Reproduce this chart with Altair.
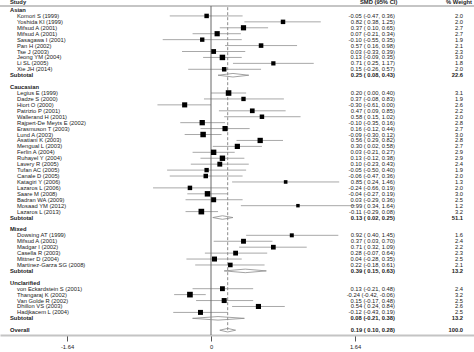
import altair as alt
import pandas as pd

asian_names = ["Komori S (1999)", "Yoshida KI (1999)", "Mifsud A (2001)", "Mifsud A (2001)",
               "Sasagawa I (2001)", "Pan H (2002)", "Tse J (2003)", "Jeong YM (2004)",
               "Li SL (2005)", "Xie JH (2014)"]
asian_smd = [-0.05, 0.82, 0.37, 0.07, -0.10, 0.57, 0.03, 0.13, 0.71, 0.15]
asian_lo = [-0.47, 0.38, 0.10, -0.21, -0.55, 0.16, -0.33, -0.09, 0.25, -0.26]
asian_hi = [0.36, 1.25, 0.65, 0.34, 0.35, 0.98, 0.39, 0.35, 1.17, 0.57]
asian_w = [2.0, 2.0, 2.7, 2.7, 1.9, 2.1, 2.3, 3.0, 1.8, 2.0]
asian_sub = (0.25, 0.08, 0.43, 22.6)

cauc_names = ["Legius E (1999)", "Dadze S (2000)", "Hiort O (2000)", "Patrizio P (2001)",
              "Wallerand H (2001)", "Rajpert-De Meyts E (2002)", "Erasmuson T (2003)",
              "Lund A (2003)", "Asatiani K (2003)", "Mengual L (2003)", "Ferlin A (2004)",
              "Ruhayel Y (2004)", "Lavery R (2005)", "Tufan AC (2005)", "Canale D (2005)",
              "Katagiri Y (2006)", "Lazaros L (2006)", "Saare M (2008)", "Badran WA (2009)",
              "Mosaad YM (2012)", "Lazaros L (2013)"]
cauc_smd = [0.20, 0.37, -0.30, 0.47, 0.58, -0.10, 0.16, -0.09, 0.56, 0.30, 0.03,
            0.13, 0.10, -0.05, -0.06, 0.85, -0.24, -0.04, 0.03, 0.99, -0.11]
cauc_lo = [0.00, -0.08, -0.61, 0.09, 0.15, -0.35, -0.12, -0.30, 0.29, 0.02, -0.21,
           -0.12, -0.23, -0.50, -0.47, 0.24, -0.66, -0.27, -0.29, 0.34, -0.29]
cauc_hi = [0.40, 0.83, 0.00, 0.85, 1.02, 0.16, 0.44, 0.12, 0.82, 0.58, 0.27,
           0.38, 0.43, 0.40, 0.36, 1.46, 0.19, 0.19, 0.36, 1.64, 0.08]
cauc_w = [3.1, 1.9, 2.6, 2.2, 2.0, 2.8, 2.7, 3.0, 2.8, 2.7, 2.9,
          2.9, 2.4, 1.9, 2.0, 1.3, 2.0, 3.0, 2.5, 1.2, 3.2]
cauc_sub = (0.13, 0.02, 0.25, 51.1)

mixed_names = ["Dowsing AT (1999)", "Mifsud A (2001)", "Madgar I (2002)", "Casella R (2003)",
               "Mittner D (2004)", "Martinez-Garza SG (2008)"]
mixed_smd = [0.92, 0.37, 0.71, 0.28, 0.04, 0.22]
mixed_lo = [0.40, 0.03, 0.32, -0.07, -0.28, -0.18]
mixed_hi = [1.45, 0.70, 1.09, 0.64, 0.35, 0.61]
mixed_w = [1.6, 2.4, 2.2, 2.3, 2.5, 2.1]
mixed_sub = (0.39, 0.15, 0.63, 13.2)

uncl_names = ["von Eckardstein S (2001)", "Thangaraj K (2002)", "Van Golde R (2002)",
              "Dhillon VS (2003)", "Hadjkacem L (2004)"]
uncl_smd = [0.13, -0.24, 0.15, 0.54, -0.12]
uncl_lo = [-0.21, -0.42, -0.17, 0.24, -0.43]
uncl_hi = [0.48, -0.06, 0.48, 0.84, 0.19]
uncl_w = [2.4, 3.2, 2.5, 2.6, 2.5]
uncl_sub = (0.08, -0.21, 0.38, 13.2)

overall = (0.19, 0.10, 0.28, 100.0)

tick_values = [-1.64, 0, 1.64]
header_texts = ["Study", "SMD (95% CI)", "% Weight"]

groups = [
    ("Asian", asian_names, asian_smd, asian_lo, asian_hi, asian_w, asian_sub),
    ("Caucasian", cauc_names, cauc_smd, cauc_lo, cauc_hi, cauc_w, cauc_sub),
    ("Mixed", mixed_names, mixed_smd, mixed_lo, mixed_hi, mixed_w, mixed_sub),
    ("Unclarified", uncl_names, uncl_smd, uncl_lo, uncl_hi, uncl_w, uncl_sub),
]


def ci_text(s, lo, hi):
    return f"{s:.2f} ({lo:5.2f}, {hi:.2f})"


records = []
r = 1
for gname, names, smd, lo, hi, w, sub in groups:
    records.append(dict(row=r, label=gname, kind="group", smd=0.0, lo=0.0, hi=0.0, w=0.0,
                        ci="", wt=""))
    r += 1
    for n, s, l, h, ww in zip(names, smd, lo, hi, w):
        records.append(dict(row=r, label=n, kind="study", smd=s, lo=l, hi=h, w=ww,
                            ci=ci_text(s, l, h), wt=f"{ww:.1f}"))
        r += 1
    records.append(dict(row=r, label="Subtotal", kind="sub", smd=sub[0], lo=sub[1],
                        hi=sub[2], w=sub[3], ci=ci_text(*sub[:3]), wt=f"{sub[3]:.1f}"))
    r += 2
records.append(dict(row=r, label="Overall", kind="overall", smd=overall[0],
                    lo=overall[1], hi=overall[2], w=overall[3], ci=ci_text(*overall[:3]),
                    wt=f"{overall[3]:.1f}"))
df = pd.DataFrame(records)

hdr = pd.DataFrame({"t": header_texts, "row": [-0.35] * 3})

# diamond outline edges, built from the pooled estimates
seg = []
for rec in records:
    if rec["kind"] in ("sub", "overall"):
        y0 = rec["row"]
        pts = [(rec["lo"], y0), (rec["smd"], y0 - 0.3), (rec["hi"], y0),
               (rec["smd"], y0 + 0.3), (rec["lo"], y0)]
        for a, b in zip(pts[:-1], pts[1:]):
            seg.append(dict(xa=a[0], ya=a[1], xb=b[0], yb=b[1]))
seg_df = pd.DataFrame(seg)

W, H = 474, 335
xscale = alt.Scale(domain=[-2.403, 2.995], nice=False, zero=False)
yscale = alt.Scale(domain=[-0.686, 55.81], reverse=True, nice=False, zero=False)
FONT = "Liberation Sans"
FS = 5.8
TXT = "#222222"

base = alt.Chart(df)

xaxis = alt.Axis(values=tick_values, title=None, grid=False, domainColor="#c4c4c4",
                 domainWidth=2, tickColor="#555555", tickSize=6, tickWidth=1,
                 labelFont=FONT, labelFontSize=FS, labelColor=TXT, labelPadding=2,
                 labelExpr="datum.value == 0 ? '0' : (datum.value < 0 ? '-' : '') + format(abs(datum.value), '.2f')")

top_line = alt.Chart(hdr).mark_rule(color="#c4c4c4", strokeWidth=1.5).encode(
    x=alt.value(0), x2=alt.value(W), y=alt.value(6))

zero_line = base.transform_filter("datum.kind == 'overall'").transform_calculate(
    z="0").mark_rule(color="#666666", strokeWidth=1).encode(
    x=alt.X("z:Q", scale=xscale), y=alt.value(6), y2=alt.value(H))

dash_line = base.transform_filter("datum.kind == 'overall'").mark_rule(
    color="#8a8a8a", strokeWidth=1, strokeDash=[3, 2]).encode(
    x=alt.X("smd:Q", scale=xscale),
    y=alt.Y("row:Q", scale=yscale),
    y2=alt.value(6))

ci_rules = base.transform_filter("datum.kind == 'study'").mark_rule(
    color="#a8a8a8", strokeWidth=1).encode(
    x=alt.X("lo:Q", scale=xscale, axis=xaxis),
    x2="hi:Q",
    y=alt.Y("row:Q", scale=yscale, axis=None))

squares = base.transform_filter("datum.kind == 'study'").mark_square(
    color="black", opacity=1).encode(
    x=alt.X("smd:Q", scale=xscale),
    y=alt.Y("row:Q", scale=yscale),
    size=alt.Size("w:Q", scale=alt.Scale(domain=[0, 3.2], range=[0, 32]), legend=None))

diamonds = alt.Chart(seg_df).mark_rule(color="#8c8c8c", strokeWidth=0.8).encode(
    x=alt.X("xa:Q", scale=xscale), x2="xb:Q",
    y=alt.Y("ya:Q", scale=yscale), y2="yb:Q")

lab_study = base.transform_filter("datum.kind == 'study'").mark_text(
    align="left", baseline="middle", font=FONT, fontSize=FS, color=TXT).encode(
    x=alt.value(17), y=alt.Y("row:Q", scale=yscale), text="label:N")
lab_bold = base.transform_filter("datum.kind != 'study'").mark_text(
    align="left", baseline="middle", font=FONT, fontSize=FS, fontWeight="bold",
    color=TXT).encode(
    x=alt.value(10), y=alt.Y("row:Q", scale=yscale), text="label:N")

ci_norm = base.transform_filter("datum.kind == 'study'").mark_text(
    align="right", baseline="middle", font=FONT, fontSize=FS, color=TXT).encode(
    x=alt.value(395), y=alt.Y("row:Q", scale=yscale), text="ci:N")
ci_bold = base.transform_filter("datum.kind == 'sub' || datum.kind == 'overall'").mark_text(
    align="right", baseline="middle", font=FONT, fontSize=FS, fontWeight="bold",
    color=TXT).encode(
    x=alt.value(395), y=alt.Y("row:Q", scale=yscale), text="ci:N")

wt_norm = base.transform_filter("datum.kind == 'study'").mark_text(
    align="right", baseline="middle", font=FONT, fontSize=FS, color=TXT).encode(
    x=alt.value(463), y=alt.Y("row:Q", scale=yscale), text="wt:N")
wt_bold = base.transform_filter("datum.kind == 'sub' || datum.kind == 'overall'").mark_text(
    align="right", baseline="middle", font=FONT, fontSize=FS, fontWeight="bold",
    color=TXT).encode(
    x=alt.value(463), y=alt.Y("row:Q", scale=yscale), text="wt:N")

h1 = alt.Chart(hdr).transform_filter("datum.t == 'Study'").mark_text(
    align="left", baseline="middle", font=FONT, fontSize=FS, fontWeight="bold",
    color=TXT).encode(x=alt.value(10), y=alt.Y("row:Q", scale=yscale), text="t:N")
h2 = alt.Chart(hdr).transform_filter("datum.t == 'SMD (95% CI)'").mark_text(
    align="left", baseline="middle", font=FONT, fontSize=FS, fontWeight="bold",
    color=TXT).encode(x=alt.value(360), y=alt.Y("row:Q", scale=yscale), text="t:N")
h3 = alt.Chart(hdr).transform_filter("datum.t == '% Weight'").mark_text(
    align="right", baseline="middle", font=FONT, fontSize=FS, fontWeight="bold",
    color=TXT).encode(x=alt.value(472), y=alt.Y("row:Q", scale=yscale), text="t:N")

chart = alt.layer(
    ci_rules, top_line, zero_line, dash_line, squares, diamonds,
    lab_study, lab_bold, ci_norm, ci_bold, wt_norm, wt_bold, h1, h2, h3
).properties(
    width=W, height=H,
    padding={"left": 0, "top": 0, "right": 0, "bottom": 17},
    autosize=alt.AutoSizeParams(type="none")
).configure_view(stroke=None)

chart.save("out.html", embed_options={"renderer": "svg", "actions": False})
